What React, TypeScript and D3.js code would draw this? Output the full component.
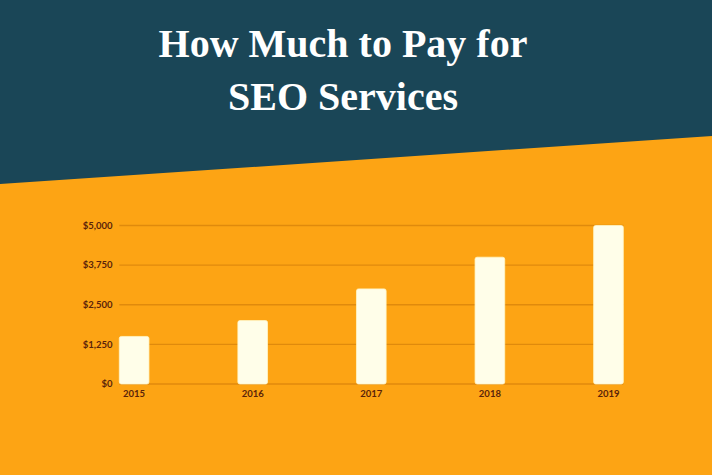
import React, { useEffect, useRef } from 'react';
import * as d3 from 'd3';

const years: string[] = ['2015', '2016', '2017', '2018', '2019'];
const costs: number[] = [1500, 2000, 3000, 4000, 5000];
const yTicks: number[] = [0, 1250, 2500, 3750, 5000];
const titleLines: string[] = ['How Much to Pay for', 'SEO Services'];

const App: React.FC = () => {
  const chartRef = useRef<SVGSVGElement | null>(null);

  useEffect(() => {
    const width = 712;
    const height = 475;
    const margin = { top: 225.5, right: 88.7, bottom: 91, left: 119.3 };

    const svg = d3.select(chartRef.current);
    svg.selectAll('*').remove();
    svg.attr('width', width).attr('height', height).attr('viewBox', `0 0 ${width} ${height}`);

    // backgrounds
    svg.append('rect').attr('width', width).attr('height', height).attr('fill', '#fda414');
    svg.append('polygon')
      .attr('points', `0,0 ${width},0 ${width},136 0,184`)
      .attr('fill', '#1a4657');

    // title
    svg.append('g')
      .selectAll('text')
      .data(titleLines)
      .enter().append('text')
      .attr('x', 343)
      .attr('y', (_, i) => 57 + i * 53)
      .attr('text-anchor', 'middle')
      .attr('font-family', '"Liberation Serif", "Times New Roman", serif')
      .attr('font-weight', 'bold')
      .attr('font-size', 40)
      .attr('fill', '#ffffff')
      .text(d => d);

    const x = d3.scaleBand<string>()
      .domain(years)
      .range([margin.left, width - margin.right])
      .paddingInner(0.75)
      .paddingOuter(0);

    const y = d3.scaleLinear()
      .domain([0, 5000])
      .range([height - margin.bottom, margin.top]);

    // gridlines
    svg.append('g')
      .selectAll('line')
      .data(yTicks)
      .enter().append('line')
      .attr('x1', margin.left)
      .attr('x2', width - margin.right)
      .attr('y1', d => y(d))
      .attr('y2', d => y(d))
      .attr('stroke', '#e08a0c')
      .attr('stroke-width', 1.3);

    // bars
    svg.append('g')
      .selectAll('rect')
      .data(costs)
      .enter().append('rect')
      .attr('x', (_, i) => x(years[i])!)
      .attr('y', d => y(d))
      .attr('width', x.bandwidth())
      .attr('height', d => y(0) - y(d))
      .attr('rx', 2)
      .attr('fill', '#fffee9')
      .attr('stroke', '#fff6c8')
      .attr('stroke-width', 0.8);

    const fmt = d3.format('$,');

    const labelStyle = (sel: d3.Selection<SVGTextElement, any, SVGGElement, unknown>) => sel
      .attr('font-family', 'Lato, "Open Sans", sans-serif')
      .attr('font-size', 9.5)
      .attr('font-weight', 'bold')
      .attr('fill', '#5a230a')
      .attr('dy', '0.35em');

    // y axis labels
    svg.append('g')
      .selectAll<SVGTextElement, number>('text')
      .data(yTicks)
      .enter().append('text')
      .attr('x', 112.5)
      .attr('y', d => y(d))
      .attr('text-anchor', 'end')
      .call(labelStyle)
      .text(d => fmt(d));

    // x axis labels
    svg.append('g')
      .selectAll<SVGTextElement, string>('text')
      .data(years)
      .enter().append('text')
      .attr('x', d => x(d)! + x.bandwidth() / 2)
      .attr('y', 394)
      .attr('text-anchor', 'middle')
      .call(labelStyle)
      .text(d => d);
  }, []);

  return (
    <div>
      <svg ref={chartRef} style={{ position: 'absolute', left: 0, top: 0, display: 'block' }}></svg>
    </div>
  );
};

export default App;
